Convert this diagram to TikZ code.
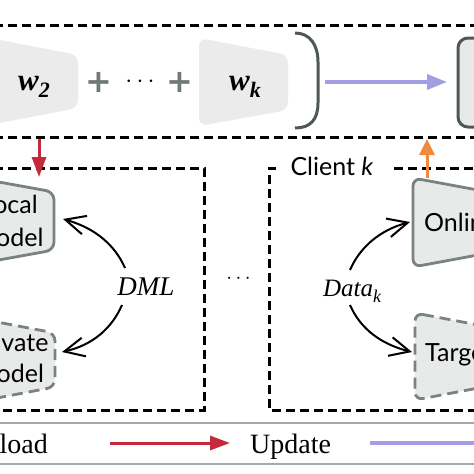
\documentclass[tikz,border=0pt]{standalone}
\usepackage{fontspec}
\setmainfont{Liberation Serif}
\newfontfamily\sansf{Lato}
\newfontfamily\plusf{DejaVu Sans}
\usetikzlibrary{arrows.meta}
\definecolor{modfill}{HTML}{E8EAEA}
\definecolor{modedge}{HTML}{7A8282}
\definecolor{darkedge}{HTML}{4F5757}
\definecolor{wfill}{HTML}{EBEBEB}
\definecolor{redarr}{HTML}{C42A3C}
\definecolor{purarr}{HTML}{A39DE3}
\definecolor{orarr}{HTML}{F08A3E}
\definecolor{plusc}{HTML}{6E7979}
\definecolor{legline}{HTML}{A5A9A9}
\begin{document}
\begin{tikzpicture}[x=1pt,y=-1pt,
  boxdash/.style={draw=black,line width=3pt,dash pattern=on 9pt off 5pt},
  wshape/.style={fill=wfill,rounded corners=8pt},
  model/.style={fill=modfill,draw=modedge,line width=2.8pt,rounded corners=8pt},
  dmodel/.style={model,dash pattern=on 11pt off 6pt},
  gnode/.style={fill=modfill,draw=darkedge,line width=3pt,rounded corners=10pt},
  bracket/.style={draw=darkedge,line width=3pt},
  mlabel/.style={font=\sansf\fontsize{25}{33}\selectfont,align=center,inner sep=0pt},
  wlabel/.style={inner sep=0pt},
  plusnode/.style={text=plusc,font=\plusf\bfseries\fontsize{32}{32}\selectfont,inner sep=0pt},
  curv/.style={line width=2pt,-{Straight Barb[length=20pt,width=19pt,line width=2pt]}},
  arrred/.style={draw=redarr,line width=3pt,-{Triangle[length=20pt,width=14pt]}},
  arrpur/.style={draw=purarr,line width=3.5pt,-{Triangle[length=20pt,width=15pt]}},
  arrora/.style={draw=orarr,line width=3pt,-{Triangle[length=16pt,width=15pt]}},
  legline/.style={draw=legline,line width=2.5pt},
  legtext/.style={font=\fontsize{28}{28}\selectfont,inner sep=0pt},
  itext/.style={font=\itshape,inner sep=0pt}
]
\useasboundingbox (0,0) rectangle (474,474);
\clip (0,0) rectangle (474,474);
\fill[white] (0,0) rectangle (474,474);

% server box
\draw[boxdash] (-20,25) -- (494,25);
\draw[boxdash] (-20,137) -- (494,137);

% weights
\fill[wshape] (-11,38) -- (78,55) -- (78,108) -- (-11,125) -- cycle;
\node[wlabel] (w2) at (34,87) {{\fontsize{31}{31}\selectfont\bfseries\itshape w}\raisebox{-7pt}{\fontsize{22}{22}\selectfont\bfseries\itshape 2}};
\node[plusnode] (p1) at (98.5,82) {+};
\node[inner sep=0pt,font=\fontsize{30}{30}\selectfont] (dots1) at (140,82) {$\cdots$};
\node[plusnode] (p2) at (180,82) {+};
\fill[wshape] (199,38) -- (288,55) -- (288,110) -- (199,126) -- cycle;
\node[wlabel] (wk) at (245,87) {{\fontsize{31}{31}\selectfont\bfseries\itshape w}\raisebox{-7pt}{\fontsize{22}{22}\selectfont\bfseries\itshape k}};
\draw[bracket] (295,33) .. controls (310,33) and (318,45) .. (318,62) -- (318,103) .. controls (318,120) and (310,128) .. (295,128);

% global node
\draw[gnode] (458,38) rectangle (540,127);
\coordinate (pa) at (325,82);
\coordinate (pb) at (447,82);
\draw[arrpur] (pa) -- (pb);

% client boxes
\draw[boxdash] (-20,168) -- (204,168) -- (204,410) -- (-20,410);
\draw[boxdash] (276,168) -- (269,168) -- (269,410) -- (494,410);
\draw[boxdash] (394,168) -- (494,168);
\node[font=\sansf\fontsize{25}{25}\selectfont,inner sep=0pt] (ck) at (332,166) {Client \textit{k}};
\node[inner sep=0pt,font=\fontsize{22}{22}\selectfont] (dots2) at (238.5,279) {$\cdots$};

% models client 1
\draw[model] (-40,175) -- (54,192) -- (54,250) -- (-40,267) -- cycle;
\node[mlabel] (loc) at (9.5,221) {Local\\model};
\draw[dmodel] (-40,315) -- (55,333) -- (55,387) -- (-40,405) -- cycle;
\node[mlabel,font=\sansf\fontsize{25}{31}\selectfont] (pri) at (10,358) {Private\\model};
\node[itext,font=\itshape\fontsize{27}{27}\selectfont] (dml) at (146,287) {DML};
\coordinate (d1s) at (125,268); \coordinate (d1e) at (63,219);
\coordinate (d2s) at (122,305); \coordinate (d2e) at (62,352);
\draw[curv] (d1s) .. controls (115,245) and (95,228) .. (d1e);
\draw[curv] (d2s) .. controls (112,328) and (93,345) .. (d2e);

% models client k
\draw[model] (413,178) -- (510,196) -- (510,249) -- (413,267) -- cycle;
\node[mlabel,anchor=west] (onl) at (424,222) {Online model};
\draw[dmodel] (415,313) -- (510,331) -- (510,382) -- (415,400) -- cycle;
\node[mlabel,anchor=west] (tar) at (425,355) {Target model};
\node[inner sep=0pt] (data) at (352,291) {{\fontsize{25}{25}\selectfont\itshape Data}\raisebox{-6pt}{\fontsize{18}{18}\selectfont\itshape k}};
\coordinate (k1s) at (350,270); \coordinate (k1e) at (410,222);
\coordinate (k2s) at (350,305); \coordinate (k2e) at (412,352);
\draw[curv] (k1s) .. controls (360,247) and (380,230) .. (k1e);
\draw[curv] (k2s) .. controls (360,328) and (380,344) .. (k2e);

% vertical arrows
\coordinate (ra) at (39,139); \coordinate (rb) at (39,177);
\draw[arrred] (ra) -- (rb);
\coordinate (oa) at (427,178); \coordinate (ob) at (427,139);
\draw[arrora] (oa) -- (ob);

% legend
\draw[legline] (-10,423) -- (484,423);
\draw[legline] (-10,464) -- (484,464);
\node[legtext,anchor=base east] (ldl) at (48,453) {Download};
\coordinate (lr1) at (110,443); \coordinate (lr2) at (230,443);
\draw[arrred] (lr1) -- (lr2);
\node[legtext,anchor=base west] (lup) at (250,453) {Update};
\coordinate (lp1) at (370,443); \coordinate (lp2) at (495,443);
\draw[arrpur] (lp1) -- (lp2);
\end{tikzpicture}
\end{document}
